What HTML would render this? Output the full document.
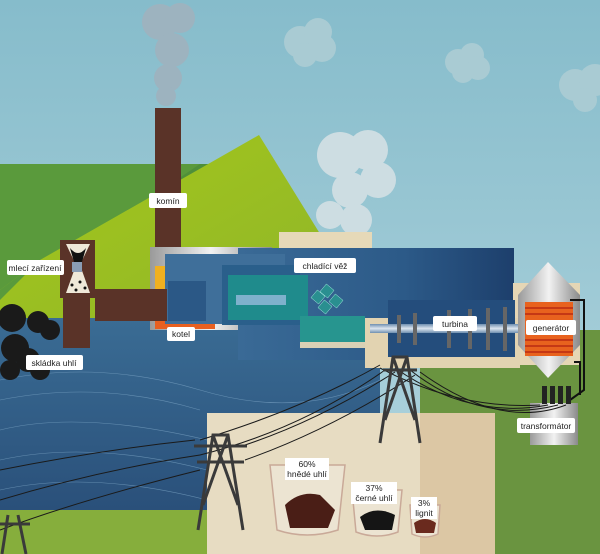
<!DOCTYPE html>
<html><head><meta charset="utf-8"><style>
html,body{margin:0;padding:0;width:600px;height:554px;overflow:hidden;background:#9fc9d6}
svg{display:block}
text{font-family:"Liberation Sans",sans-serif;font-size:8.5px;fill:#222}
</style></head><body>
<svg width="600" height="554" viewBox="0 0 600 554" xmlns="http://www.w3.org/2000/svg">
<defs>
<linearGradient id="sky" x1="0" y1="0" x2="0" y2="1"><stop offset="0" stop-color="#86bccb"/><stop offset="1" stop-color="#b4d6df"/></linearGradient>
<linearGradient id="met" x1="0" y1="0" x2="1" y2="0"><stop offset="0" stop-color="#9a9a9a"/><stop offset=".5" stop-color="#f2f2f2"/><stop offset="1" stop-color="#8a8a8a"/></linearGradient>
<linearGradient id="blu" x1="0" y1="0" x2="1" y2="0"><stop offset="0" stop-color="#3a6a96"/><stop offset=".6" stop-color="#2c5a88"/><stop offset="1" stop-color="#1d3f6c"/></linearGradient>
<linearGradient id="water" x1="0" y1="0" x2="0" y2="1"><stop offset="0" stop-color="#3a6c94"/><stop offset="1" stop-color="#2a507a"/></linearGradient>
<linearGradient id="shaft" x1="0" y1="0" x2="0" y2="1"><stop offset="0" stop-color="#6f8fb0"/><stop offset=".5" stop-color="#dde6ef"/><stop offset="1" stop-color="#6f8fb0"/></linearGradient>
<linearGradient id="lime" x1="0" y1="0" x2="1" y2="1"><stop offset="0" stop-color="#a5c81a"/><stop offset="1" stop-color="#8fb52a"/></linearGradient>
</defs>
<rect width="600" height="554" fill="url(#sky)"/>
<g fill="#a9cbd3">
<circle cx="300" cy="42" r="16"/><circle cx="318" cy="32" r="14"/><circle cx="322" cy="48" r="14"/><circle cx="305" cy="55" r="12"/>
<circle cx="458" cy="62" r="13"/><circle cx="472" cy="55" r="12"/><circle cx="478" cy="68" r="12"/><circle cx="463" cy="72" r="11"/>
<circle cx="575" cy="85" r="16"/><circle cx="595" cy="80" r="16"/><circle cx="585" cy="100" r="12"/>
</g>
<g fill="#9db3bf"><circle cx="160" cy="22" r="18"/><circle cx="180" cy="18" r="15"/><circle cx="172" cy="50" r="17"/><circle cx="168" cy="78" r="14"/><circle cx="166" cy="96" r="10"/></g>
<g fill="#cddde2"><circle cx="340" cy="155" r="23"/><circle cx="368" cy="150" r="20"/><circle cx="378" cy="180" r="18"/><circle cx="350" cy="190" r="18"/><circle cx="330" cy="215" r="14"/><circle cx="356" cy="220" r="16"/></g>
<path d="M0 164 H215 L0 330 Z" fill="#4f8f3a"/>
<path d="M0 164 H200 L0 300Z" fill="#5a9a3c"/>
<path d="M40 260 L259 135 L330 250 L330 330 L0 330 L0 290Z" fill="url(#lime)"/>
<path d="M0 300 L40 260 L0 290Z" fill="#5a9a3c"/>
<rect x="420" y="330" width="180" height="224" fill="#6a9440"/>
<path d="M0 318 H380 V413 H207 V510 H0Z" fill="url(#water)"/>
<g stroke="#7aa3c3" stroke-width=".6" fill="none" opacity=".7">
<path d="M0 380 Q100 360 200 390 T380 380"/><path d="M0 400 Q100 380 200 410"/><path d="M0 430 Q80 410 207 440"/><path d="M0 460 Q90 440 207 470"/><path d="M0 490 Q90 470 207 500"/>
</g>
<rect x="0" y="510" width="207" height="44" fill="#86ae3c"/>
<rect x="207" y="413" width="288" height="141" fill="#e7dcc2"/>
<rect x="420" y="413" width="75" height="141" fill="#dcc7a4"/>
<rect x="155" y="108" width="26" height="150" fill="#5a3328"/>
<rect x="149" y="193" width="38" height="15" rx="2" fill="#fff"/><text x="168" y="204" text-anchor="middle">komín</text>
<rect x="279" y="232" width="93" height="17" fill="#e6d9b8"/>
<rect x="150" y="247" width="122" height="83" fill="url(#met)"/>
<rect x="155" y="266" width="12" height="30" fill="#f0b020"/>
<rect x="155" y="321" width="60" height="8" fill="#e86020"/>
<rect x="238" y="248" width="276" height="112" fill="url(#blu)"/>
<rect x="165" y="254" width="120" height="70" fill="#3f6f9a"/>
<rect x="222" y="265" width="78" height="60" fill="#2a5f8b"/>
<rect x="228" y="275" width="80" height="45" fill="#1f8b8c"/>
<rect x="236" y="295" width="50" height="10" fill="#7fb1cc"/>
<rect x="168" y="281" width="38" height="40" fill="#2b5886"/>
<rect x="300" y="316" width="65" height="30" fill="#27958f"/>
<rect x="300" y="342" width="80" height="6" fill="#d9d0b5"/>
<g fill="#2a8f90" stroke="#bfe" stroke-width=".4"><rect x="313" y="292" width="10" height="10" transform="rotate(40 318 297)"/><rect x="322" y="286" width="10" height="10" transform="rotate(40 327 291)"/><rect x="320" y="302" width="10" height="10" transform="rotate(40 325 307)"/><rect x="331" y="296" width="10" height="10" transform="rotate(40 336 301)"/></g>
<rect x="294" y="258" width="62" height="15" rx="2" fill="#fff"/><text x="325" y="269" text-anchor="middle">chladící věž</text>
<rect x="513" y="283" width="67" height="82" fill="#e5d6b5"/>
<rect x="365" y="318" width="155" height="50" fill="#e2d3b1"/>
<rect x="388" y="300" width="127" height="57" fill="#244d7c"/>
<rect x="370" y="324" width="160" height="9" fill="url(#shaft)"/>
<g fill="#666"><rect x="397" y="315" width="4" height="28"/><rect x="413" y="313" width="4" height="32"/><rect x="447" y="310" width="4" height="38"/><rect x="468" y="309" width="4" height="40"/><rect x="486" y="308" width="4" height="42"/><rect x="503" y="307" width="4" height="44"/></g>
<rect x="433" y="316" width="44" height="15" rx="2" fill="#fff"/><text x="455" y="327" text-anchor="middle">turbina</text>
<path d="M548 262 L580 295 L580 345 L548 378 L518 345 L518 295Z" fill="url(#met)"/>
<rect x="525" y="302" width="48" height="54" fill="#e8621e"/>
<g stroke="#b02010" stroke-width="1.2"><path d="M525 308H573M525 314H573M525 340H573M525 346H573M525 352H573"/></g>
<rect x="526" y="320" width="50" height="15" rx="2" fill="#fff"/><text x="551" y="331" text-anchor="middle">generátor</text>
<path d="M570 300 H584 V390 L570 400 M574 362 H580 V395" stroke="#111" stroke-width="2" fill="none"/>
<rect x="530" y="403" width="48" height="42" fill="url(#met)"/>
<g fill="#222"><rect x="542" y="386" width="5" height="18"/><rect x="550" y="386" width="5" height="18"/><rect x="558" y="386" width="5" height="18"/><rect x="566" y="386" width="5" height="18"/></g>
<rect x="517" y="418" width="58" height="15" rx="2" fill="#fff"/><text x="546" y="429" text-anchor="middle">transformátor</text>
<rect x="95" y="289" width="72" height="32" fill="#5a3328"/>
<rect x="63" y="296" width="27" height="52" fill="#5a3328"/>
<rect x="60" y="240" width="35" height="58" fill="#5a3328"/>
<path d="M66 244 H90 L80 265 L90 293 H66 L76 265Z" fill="#efe8d8"/>
<path d="M70 248 Q78 258 86 248 L82 262 H74Z" fill="#111"/>
<rect x="72" y="262" width="10" height="10" fill="#8a9db5"/>
<g fill="#111"><circle cx="72" cy="285" r="1.5"/><circle cx="80" cy="282" r="1.5"/><circle cx="85" cy="288" r="1.5"/><circle cx="76" cy="290" r="1.5"/></g>
<rect x="7" y="260" width="57" height="15" rx="2" fill="#fff"/><text x="35" y="271" text-anchor="middle">mlecí zařízení</text>
<g fill="#1a1a1a"><circle cx="12" cy="318" r="14"/><circle cx="38" cy="322" r="11"/><circle cx="50" cy="330" r="10"/><circle cx="15" cy="348" r="14"/><circle cx="28" cy="360" r="12"/><circle cx="10" cy="370" r="10"/><circle cx="40" cy="370" r="10"/></g>
<rect x="26" y="355" width="57" height="15" rx="2" fill="#fff"/><text x="54" y="366" text-anchor="middle">skládka uhlí</text>
<rect x="167" y="327" width="28" height="14" rx="2" fill="#fff"/><text x="181" y="337" text-anchor="middle">kotel</text>
<g stroke="#1a1a1a" stroke-width="1" fill="none">
<path d="M200 440 Q300 410 380 365"/><path d="M200 455 Q300 430 385 370"/><path d="M245 445 Q320 420 395 372"/><path d="M245 460 Q330 430 415 375"/>
<path d="M380 368 Q460 410 540 405"/><path d="M395 368 Q470 420 548 405"/><path d="M410 370 Q480 425 558 405"/><path d="M420 372 Q500 430 566 405"/>
<path d="M0 470 Q100 450 195 440"/><path d="M0 500 Q100 470 200 455"/><path d="M0 530 Q80 500 200 470"/>
</g>
<g stroke="#3a3a3a" stroke-width="3" fill="none">
<path d="M198 530 L213 435 H228 L243 530 M213 435 L238 505 M228 435 L203 505 M194 446 H247 M197 462 H244"/>
<path d="M380 443 L393 357 H407 L420 443 M393 357 L415 420 M407 357 L385 420 M383 370 H417"/>
<path d="M0 524 H30 M8 515 L2 554 M18 515 L26 554"/>
</g>
<g fill="#ece4d2" stroke="#c9a998" stroke-width="1.5">
<path d="M270 465 H345 L338 530 Q307 540 277 530Z"/>
<path d="M352 490 H402 L398 532 Q377 540 356 532Z"/>
<path d="M410 505 H440 L438 534 Q425 540 412 534Z"/>
</g>
<path d="M285 505 Q300 490 320 495 L335 510 L328 528 H290Z" fill="#4a1e16"/>
<path d="M360 517 Q375 505 395 515 L392 530 H365Z" fill="#151515"/>
<path d="M414 523 Q425 515 436 523 L434 533 H416Z" fill="#6a2a1e"/>
<rect x="285" y="458" width="44" height="22" fill="#fff"/><text x="307" y="467" text-anchor="middle">60%</text><text x="307" y="477" text-anchor="middle">hnědé uhlí</text>
<rect x="351" y="482" width="46" height="22" fill="#fff"/><text x="374" y="491" text-anchor="middle">37%</text><text x="374" y="501" text-anchor="middle">černé uhlí</text>
<rect x="411" y="497" width="26" height="22" fill="#fff"/><text x="424" y="506" text-anchor="middle">3%</text><text x="424" y="516" text-anchor="middle">lignit</text>
</svg>
</body></html>
